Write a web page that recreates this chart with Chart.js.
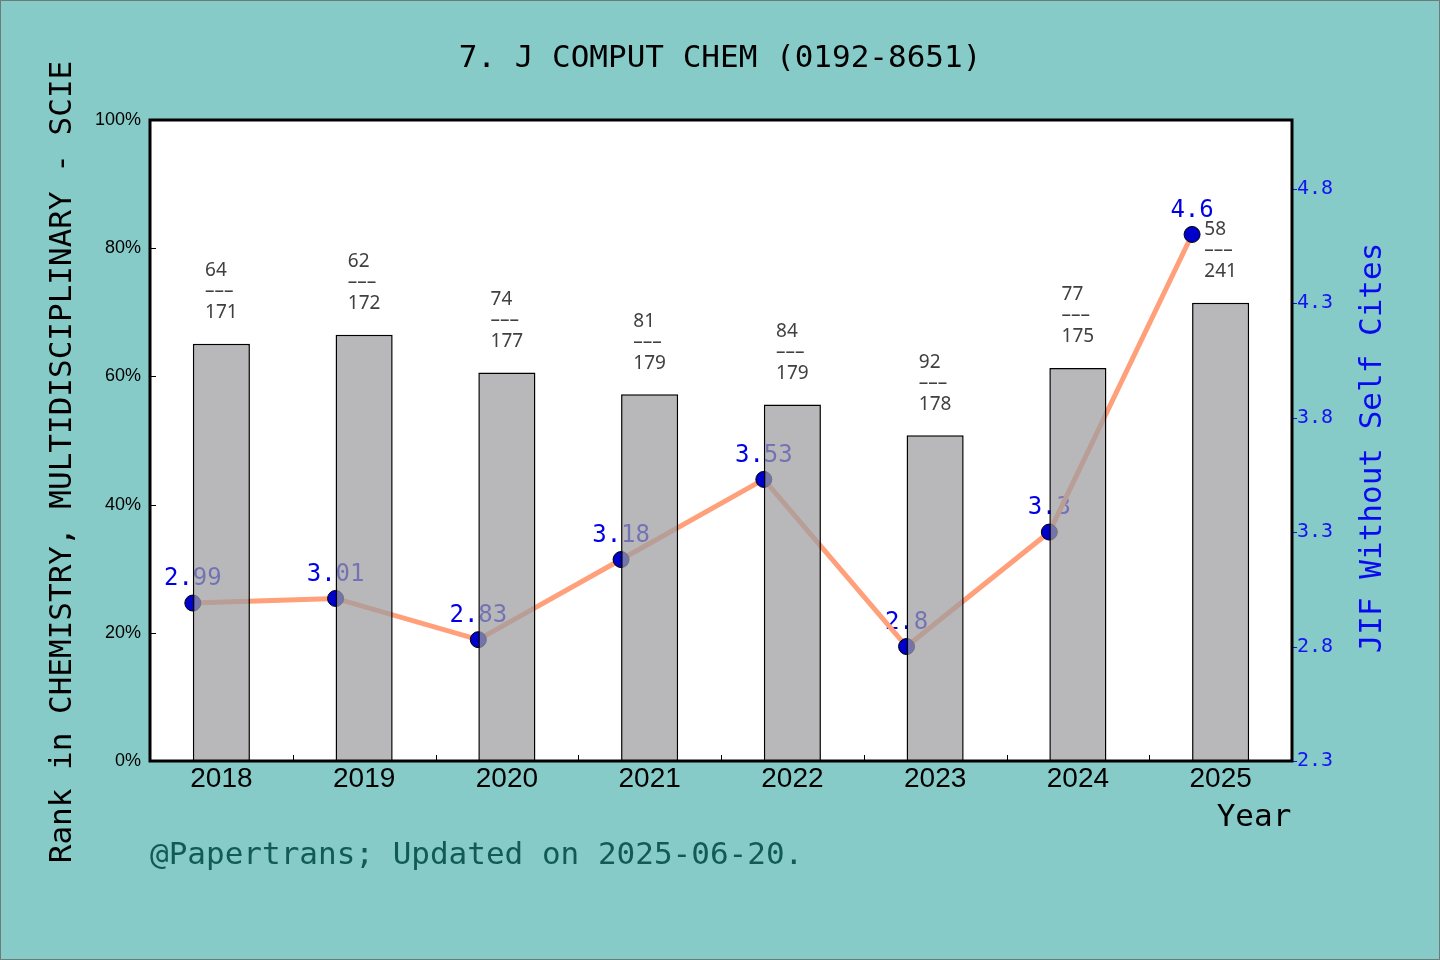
<!DOCTYPE html>
<html>
<head>
<meta charset="utf-8">
<script src="https://cdn.jsdelivr.net/npm/chart.js@4"></script>
<style>
  html, body { margin: 0; padding: 0; background: #87cbc9; }
  #wrap { width: 1440px; height: 960px; position: relative; }
</style>
</head>
<body>
<div id="wrap"><canvas id="jifChart"></canvas></div>
<script>
// chart values
const years = ['2018', '2019', '2020', '2021', '2022', '2023', '2024', '2025'];
const rankPct = [65.1, 66.5, 60.6, 57.2, 55.6, 50.8, 61.3, 71.5];
const ranks = [64, 62, 74, 81, 84, 92, 77, 58];
const totals = [171, 172, 177, 179, 179, 178, 175, 241];
const jif = [2.99, 3.01, 2.83, 3.18, 3.53, 2.8, 3.3, 4.6];
const pctTicks = [0, 20, 40, 60, 80, 100];
const jifTicks = [2.3, 2.8, 3.3, 3.8, 4.3, 4.8];

const MONO = '"DejaVu Sans Mono", "Liberation Mono", monospace';
const SANS = '"Liberation Sans", Arial, sans-serif';
const lineShift = -0.2; // line points sit on the left edge of each bar

const barData = years.map((y, i) => ({ x: i, y: rankPct[i] }));
const lineData = years.map((y, i) => ({ x: i + lineShift, y: jif[i] }));

// labels under the bars (blue JIF values), drawn before datasets
const pointLabels = {
    id: 'pointLabels',
    beforeDatasetsDraw(chart) {
        const ctx = chart.ctx;
        const meta = chart.getDatasetMeta(1);
        ctx.save();
        ctx.font = '24px ' + MONO;
        ctx.fillStyle = '#0000e6';
        ctx.textAlign = 'center';
        ctx.textBaseline = 'middle';
        meta.data.forEach((pt, i) => {
            ctx.fillText(String(jif[i]), pt.x, pt.y - 24);
        });
        ctx.restore();
    }
};

// rank / total labels, frame, ticks and titles
const decorations = {
    id: 'decorations',
    afterDatasetsDraw(chart) {
        const ctx = chart.ctx;
        const ca = chart.chartArea;
        const xs = chart.scales.x;
        const yl = chart.scales.y;
        const yr = chart.scales.y1;

        ctx.save();
        // bar labels
        ctx.font = '19px "Noto Sans", ' + SANS;
        ctx.fillStyle = '#404040';
        ctx.textBaseline = 'middle';
        ctx.textAlign = 'left';
        chart.getDatasetMeta(0).data.forEach((bar, i) => {
            const lines = [String(ranks[i]), '–––', String(totals[i])];
            const w = Math.max(...lines.map(t => ctx.measureText(t).width));
            const left = bar.x - w / 2;
            ctx.fillText(lines[0], left, bar.y - 73);
            ctx.fillText(lines[1], left, bar.y - 52);
            ctx.fillText(lines[2], left, bar.y - 31);
        });

        // ticks
        ctx.strokeStyle = '#000';
        ctx.lineWidth = 1;
        ctx.beginPath();
        for (let i = 0; i < years.length - 1; i++) {
            const px = Math.round(xs.getPixelForValue(i + 0.5)) + 0.5;
            ctx.moveTo(px, ca.bottom);
            ctx.lineTo(px, ca.bottom - 6);
        }
        pctTicks.forEach(v => {
            const py = Math.round(yl.getPixelForValue(v)) + 0.5;
            ctx.moveTo(ca.left, py);
            ctx.lineTo(ca.left + 6, py);
        });
        ctx.stroke();
        ctx.strokeStyle = '#1414f0';
        ctx.beginPath();
        jifTicks.forEach(v => {
            const py = Math.round(yr.getPixelForValue(v)) + 0.5;
            ctx.moveTo(ca.right, py);
            ctx.lineTo(ca.right + 5, py);
        });
        ctx.stroke();

        // plot frame
        ctx.strokeStyle = '#000';
        ctx.lineWidth = 3;
        ctx.strokeRect(ca.left, ca.top, ca.right - ca.left, ca.bottom - ca.top);

        // titles
        ctx.fillStyle = '#000';
        ctx.textBaseline = 'middle';
        ctx.textAlign = 'center';
        ctx.font = '31px ' + MONO;
        ctx.fillText('7. J COMPUT CHEM (0192-8651)', 720, ca.top - 61);
        ctx.fillText('Year', ca.right - 38, ca.bottom + 57);

        ctx.textAlign = 'left';
        ctx.fillStyle = '#125a55';
        ctx.fillText('@Papertrans; Updated on 2025-06-20.', ca.left, ca.bottom + 95);

        ctx.save();
        ctx.translate(63, 462);
        ctx.rotate(-Math.PI / 2);
        ctx.textAlign = 'center';
        ctx.fillStyle = '#000';
        ctx.fillText('Rank in CHEMISTRY, MULTIDISCIPLINARY - SCIE', 0, 0);
        ctx.restore();

        ctx.save();
        ctx.translate(ca.right + 81, 448);
        ctx.rotate(-Math.PI / 2);
        ctx.textAlign = 'center';
        ctx.fillStyle = '#0a0af0';
        ctx.fillText('JIF Without Self Cites', 0, 0);
        ctx.restore();

        // thin outer border of the figure
        ctx.strokeStyle = '#6a7d7c';
        ctx.lineWidth = 1;
        ctx.strokeRect(0.5, 0.5, chart.width - 1, chart.height - 1);
        ctx.restore();
    }
};

const plotBackground = {
    id: 'plotBackground',
    beforeDraw(chart) {
        const ca = chart.chartArea;
        chart.ctx.save();
        chart.ctx.fillStyle = '#ffffff';
        chart.ctx.fillRect(ca.left, ca.top, ca.right - ca.left, ca.bottom - ca.top);
        chart.ctx.restore();
    }
};

const ctx = document.getElementById('jifChart').getContext('2d');
new Chart(ctx, {
    data: {
        datasets: [{
            type: 'bar',
            label: 'Rank',
            data: barData,
            yAxisID: 'y',
            xAxisID: 'x',
            backgroundColor: 'rgba(157, 158, 160, 0.73)',
            borderColor: '#000',
            borderWidth: 1.5,
            barPercentage: 0.4,
            categoryPercentage: 1.0,
            order: 0
        }, {
            type: 'line',
            label: 'JIF',
            data: lineData,
            yAxisID: 'y1',
            xAxisID: 'x',
            borderColor: '#ffa07a',
            borderWidth: 5,
            pointRadius: 8,
            pointBackgroundColor: '#0000cd',
            pointBorderColor: '#000',
            pointBorderWidth: 1,
            tension: 0,
            order: 1
        }]
    },
    options: {
        responsive: true,
        maintainAspectRatio: false,
        animation: false,
        layout: { padding: { top: 120, left: 0, right: 0, bottom: 0 } },
        plugins: {
            legend: { display: false },
            tooltip: { enabled: false }
        },
        scales: {
            x: {
                type: 'linear',
                position: 'bottom',
                offset: false,
                min: -0.5,
                max: 7.5,
                grid: { display: false, drawTicks: false, offset: false },
                border: { display: false },
                afterBuildTicks: s => { s.ticks = years.map((y, i) => ({ value: i })); },
                afterFit: s => { s.height = 199; },
                ticks: {
                    padding: 1,
                    color: '#000',
                    font: { family: SANS, size: 28 },
                    callback: v => years[v]
                }
            },
            y: {
                type: 'linear',
                position: 'left',
                min: 0,
                max: 100,
                grid: { display: false, drawTicks: false },
                border: { display: false },
                afterBuildTicks: s => { s.ticks = pctTicks.map(v => ({ value: v })); },
                afterFit: s => { s.width = 150; },
                ticks: {
                    padding: 9,
                    color: '#000',
                    font: { family: SANS, size: 18 },
                    callback: v => v + '%'
                }
            },
            y1: {
                type: 'linear',
                position: 'right',
                min: 2.3,
                max: 5.1,
                grid: { display: false, drawTicks: false },
                border: { display: false },
                afterBuildTicks: s => { s.ticks = jifTicks.map(v => ({ value: v })); },
                afterFit: s => { s.width = 148; },
                ticks: {
                    padding: 5,
                    color: '#1414f0',
                    font: { family: MONO, size: 20 },
                    callback: v => v.toFixed(1)
                }
            }
        }
    },
    plugins: [plotBackground, pointLabels, decorations]
});
</script>
</body>
</html>
